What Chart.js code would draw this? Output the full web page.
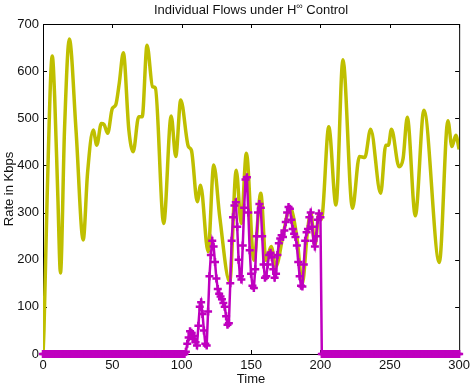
<!DOCTYPE html>
<html lang="en">
<head>
    <meta charset="UTF-8">
    <title>Individual Flows under H-infinity Control</title>
    <script src="https://cdn.jsdelivr.net/npm/chart.js"></script>
    <style>
        body { margin: 0; background: #fff; }
    </style>
</head>
<body>
    <canvas id="flowChart" width="474" height="386"></canvas>

<script>
    // Flow 1 (olive): smooth curve, read at its turning points
    const flow1Time = [0, 0.7, 3, 6.7, 8.4, 10.7, 12.6, 15.5, 19, 23.8, 29, 32.1, 36.2, 38.8, 42, 44, 46.6, 50, 52.4, 55,
        57.9, 61.9, 65, 69, 71.5, 75, 79, 81, 87, 92.4, 95.7, 99.3, 104.8, 107, 111.2, 113.6, 119, 123.1, 127.4, 134.6,
        139.3, 142.9, 146.6, 152, 157, 160.7, 164.5, 167.8, 173.5, 178, 183, 187, 190.5, 193, 196, 199, 200, 201.2, 206, 211.2,
        216.2, 223.1, 228.1, 232, 236.2, 243.4, 247.1, 249, 251.2, 256.7, 259.6, 262.6, 268.4, 274.6, 285.7, 291.9, 294.8, 297.6, 300];
    const flow1Rate = [0, 51, 334, 632, 546, 334, 172, 475, 668, 475, 242, 383, 475, 443, 489, 487, 468, 521, 528, 575,
        639, 475, 429, 503, 503, 655, 567, 564, 277, 505, 419, 539, 440, 432, 323, 358, 217, 401, 291, 153,
        390, 277, 426, 199, 341, 199, 228, 185, 259, 312, 248, 150, 256, 301, 230, 299, 285, 291, 482, 316,
        624, 309, 419, 417, 477, 341, 443, 443, 477, 397, 415, 502, 293, 517, 194, 495, 440, 464, 434];

    // Flow 2 (magenta): sampled every time unit, zero outside t = 103..200
    const flow2Start = 103;
    const flow2Active = [5, 22, 35, 48, 45, 32, 38, 25, 18, 60, 100, 110, 85, 50, 22, 18, 90, 165, 210, 240,
        228, 195, 160, 138, 128, 122, 116, 108, 100, 80, 62, 65, 150, 240, 290, 315, 322, 270, 200, 165,
        158, 230, 310, 370, 375, 300, 220, 170, 145, 140, 180, 250, 300, 318, 310, 250, 190, 162, 165, 190,
        210, 215, 205, 180, 162, 170, 210, 235, 245, 252, 248, 262, 280, 300, 312, 308, 285, 265, 255, 248,
        230, 195, 165, 145, 143, 190, 240, 258, 265, 290, 300, 270, 240, 228, 250, 285, 298, 290];

    const xTicks = [0, 50, 100, 150, 200, 250, 300];
    const yTicks = [0, 100, 200, 300, 400, 500, 600, 700];

    const olive = '#bfbf00';
    const magenta = '#bf00bf';
    const font = '"Liberation Sans", Arial, sans-serif';

    const flow1Points = flow1Time.map((t, i) => ({ x: t, y: flow1Rate[i] }));
    const flow2Points = [];
    for (let t = 0; t <= 300; t++) {
        const k = t - flow2Start;
        flow2Points.push({ x: t, y: (k >= 0 && k < flow2Active.length) ? flow2Active[k] : 0 });
    }

    // box around the plot with inward ticks on all four sides, plus the title
    const matlabAxes = {
        id: 'matlabAxes',
        beforeDatasetsDraw(chart) {
            const { ctx, chartArea: a, scales } = chart;
            ctx.save();
            ctx.strokeStyle = '#000';
            ctx.lineWidth = 1;
            ctx.strokeRect(a.left + 0.5, a.top + 0.5, a.right - a.left, a.bottom - a.top);
            ctx.beginPath();
            xTicks.forEach(v => {
                const px = Math.round(scales.x.getPixelForValue(v)) + 0.5;
                ctx.moveTo(px, a.bottom); ctx.lineTo(px, a.bottom - 4);
                ctx.moveTo(px, a.top); ctx.lineTo(px, a.top + 4);
            });
            yTicks.forEach(v => {
                const py = Math.round(scales.y.getPixelForValue(v)) + 0.5;
                ctx.moveTo(a.left, py); ctx.lineTo(a.left + 4, py);
                ctx.moveTo(a.right, py); ctx.lineTo(a.right - 4, py);
            });
            ctx.stroke();
            ctx.restore();
        },
        afterDraw(chart) {
            const { ctx, chartArea: a } = chart;
            const p1 = 'Individual Flows under H', sup = '\u221e', p2 = ' Control';
            ctx.save();
            ctx.fillStyle = '#111';
            ctx.textBaseline = 'alphabetic';
            ctx.font = '13px ' + font;
            const w1 = ctx.measureText(p1).width, w3 = ctx.measureText(p2).width;
            ctx.font = '9px ' + font;
            const w2 = ctx.measureText(sup).width;
            let x = (a.left + a.right) / 2 - (w1 + w2 + w3) / 2;
            const y = 14;
            ctx.font = '13px ' + font;
            ctx.fillText(p1, x, y);
            x += w1;
            ctx.font = '9px ' + font;
            ctx.fillText(sup, x, y - 5);
            x += w2;
            ctx.font = '13px ' + font;
            ctx.fillText(p2, x, y);
            ctx.restore();
        }
    };

    new Chart(document.getElementById('flowChart'), {
        type: 'line',
        data: {
            datasets: [
                {
                    label: 'Flow 2',
                    data: flow2Points,
                    borderColor: magenta,
                    backgroundColor: magenta,
                    borderWidth: 2.5,
                    tension: 0,
                    pointStyle: 'cross',
                    pointRadius: 4,
                    pointBorderWidth: 2.5,
                    pointBorderColor: magenta,
                    clip: false,
                    order: 0
                },
                {
                    label: 'Flow 1',
                    data: flow1Points,
                    borderColor: olive,
                    borderWidth: 3.5,
                    cubicInterpolationMode: 'monotone',
                    pointRadius: 0,
                    fill: false,
                    order: 1
                }
            ]
        },
        options: {
            responsive: false,
            animation: false,
            layout: { padding: { top: 24, right: 11, left: 0, bottom: 0 } },
            plugins: {
                legend: { display: false },
                tooltip: { enabled: false }
            },
            scales: {
                x: {
                    type: 'linear',
                    min: 0,
                    max: 300,
                    afterFit: s => { s.height = 32; },
                    afterBuildTicks: s => { s.ticks = xTicks.map(v => ({ value: v })); },
                    grid: { display: false, drawTicks: false },
                    border: { display: false },
                    ticks: { color: '#111', font: { family: font, size: 13 }, padding: 4, maxRotation: 0 },
                    title: { display: true, text: 'Time', color: '#111', font: { family: font, size: 13, lineHeight: 1 }, padding: 0 }
                },
                y: {
                    type: 'linear',
                    min: 0,
                    max: 700,
                    afterFit: s => { s.width = 43; },
                    afterBuildTicks: s => { s.ticks = yTicks.map(v => ({ value: v })); },
                    grid: { display: false, drawTicks: false },
                    border: { display: false },
                    ticks: { color: '#111', font: { family: font, size: 13 }, padding: 4 },
                    title: { display: true, text: 'Rate in Kbps', color: '#111', font: { family: font, size: 13, lineHeight: 1 }, padding: { top: 3, bottom: 0 } }
                }
            }
        },
        plugins: [matlabAxes]
    });
</script>
</body>
</html>
